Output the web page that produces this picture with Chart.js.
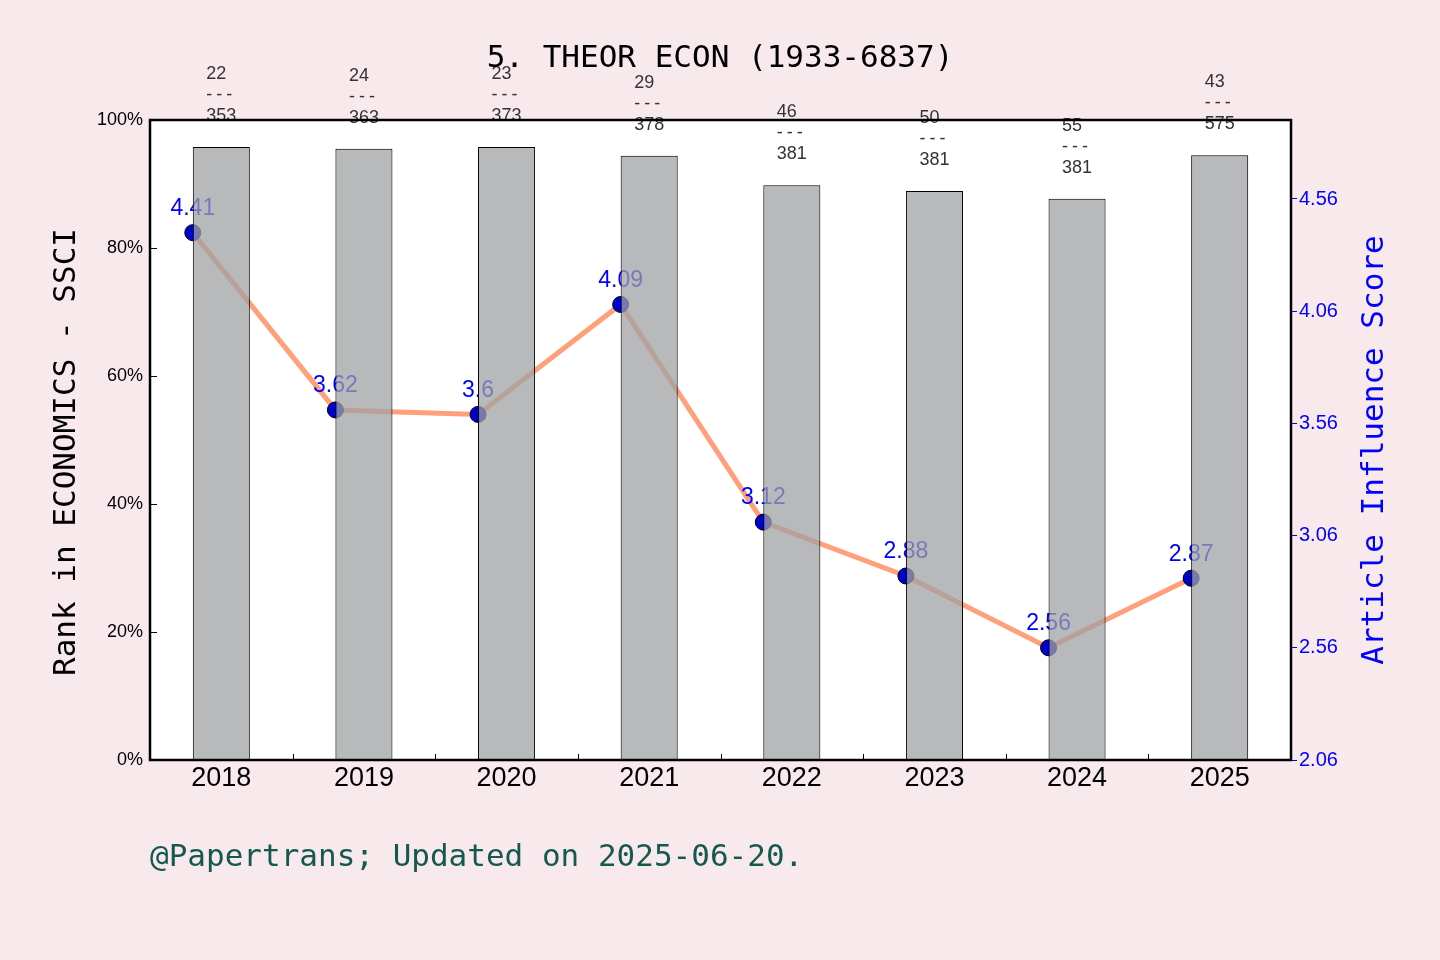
<!DOCTYPE html>
<html>
<head>
<meta charset="utf-8">
<script src="https://cdn.jsdelivr.net/npm/chart.js@4"></script>
<style>
  html, body { margin: 0; padding: 0; background: #f8e9ec; }
  canvas { display: block; }
</style>
</head>
<body>
<canvas id="chart" width="1440" height="960"></canvas>
<script>
// data
const years = ['2018', '2019', '2020', '2021', '2022', '2023', '2024', '2025'];
const rankPct = [95.8, 95.5, 95.8, 94.4, 89.8, 88.9, 87.7, 94.5];
const rankNo = ['22', '24', '23', '29', '46', '50', '55', '43'];
const rankTotal = ['353', '363', '373', '378', '381', '381', '381', '575'];
const aisScore = [4.41, 3.62, 3.6, 4.09, 3.12, 2.88, 2.56, 2.87];
const aisTicks = [2.06, 2.56, 3.06, 3.56, 4.06, 4.56];
const pctTicks = [0, 20, 40, 60, 80, 100];

const MONO = '"DejaVu Sans Mono", "Liberation Mono", monospace';
const SANS = '"Liberation Sans", Arial, sans-serif';

// line points sit at the left edge of each bar
const BAR_FRAC = 0.4;

const decoPlugin = {
  id: 'deco',
  beforeDraw(chart) {
    const { ctx, chartArea: a } = chart;
    ctx.save();
    ctx.fillStyle = '#f8e9ec';
    ctx.fillRect(0, 0, chart.width, chart.height);
    ctx.fillStyle = '#ffffff';
    ctx.fillRect(a.left, a.top, a.right - a.left, a.bottom - a.top);
    ctx.restore();
  },
  afterDatasetDraw(chart, args) {
    // value labels of the line, drawn before the bars so bars tint them
    if (args.index !== 1) return;
    const { ctx } = chart;
    const meta = chart.getDatasetMeta(1);
    ctx.save();
    ctx.font = '23px ' + SANS;
    ctx.fillStyle = '#0000ff';
    ctx.textAlign = 'center';
    ctx.textBaseline = 'middle';
    meta.data.forEach((pt, i) => {
      ctx.fillText(String(aisScore[i]), pt.x, pt.y - 24);
    });
    ctx.restore();
  },
  afterDatasetsDraw(chart) {
    const { ctx, chartArea: a } = chart;
    const meta = chart.getDatasetMeta(0);
    ctx.save();
    // rank labels above bars
    ctx.font = '18px ' + SANS;
    ctx.fillStyle = '#333333';
    ctx.textAlign = 'left';
    ctx.textBaseline = 'middle';
    meta.data.forEach((bar, i) => {
      const w = Math.max(ctx.measureText(rankNo[i]).width, ctx.measureText(rankTotal[i]).width);
      const x0 = bar.x - w / 2;
      const yb = bar.y - 31;
      ctx.fillText(rankTotal[i], x0, yb);
      ctx.fillText(rankNo[i], x0, yb - 42);
      ctx.save();
      ctx.letterSpacing = '4px';
      ctx.fillText('---', x0, yb - 21);
      ctx.restore();
    });

    // plot frame
    ctx.strokeStyle = '#000000';
    ctx.lineWidth = 2.5;
    ctx.strokeRect(a.left, a.top, a.right - a.left, a.bottom - a.top);

    // inward ticks on left axis
    const y = chart.scales.y;
    ctx.lineWidth = 1;
    pctTicks.forEach(v => {
      const py = Math.round(y.getPixelForValue(v)) + 0.5;
      ctx.beginPath();
      ctx.moveTo(a.left, py);
      ctx.lineTo(a.left + 7, py);
      ctx.stroke();
    });
    // inward ticks between categories on bottom axis
    const xl = chart.scales.xl;
    for (let i = 0; i < years.length - 1; i++) {
      const px = Math.round(xl.getPixelForValue(i + 0.5)) + 0.5;
      ctx.beginPath();
      ctx.moveTo(px, a.bottom);
      ctx.lineTo(px, a.bottom - 6);
      ctx.stroke();
    }

    // title
    ctx.fillStyle = '#000000';
    ctx.font = '31px ' + MONO;
    ctx.textAlign = 'center';
    ctx.textBaseline = 'middle';
    ctx.fillText('5. THEOR ECON (1933-6837)', 720, 59);

    // axis titles
    ctx.save();
    ctx.translate(67, 452);
    ctx.rotate(-Math.PI / 2);
    ctx.fillText('Rank in ECONOMICS - SSCI', 0, 0);
    ctx.restore();
    ctx.save();
    ctx.translate(1375, 450);
    ctx.rotate(-Math.PI / 2);
    ctx.fillStyle = '#0000ff';
    ctx.fillText('Article Influence Score', 0, 0);
    ctx.restore();

    // footer
    ctx.fillStyle = '#14594f';
    ctx.textAlign = 'left';
    ctx.fillText('@Papertrans; Updated on 2025-06-20.', 150, 858);
    ctx.restore();
  }
};

new Chart(document.getElementById('chart'), {
  type: 'bar',
  data: {
    labels: years,
    datasets: [
      {
        type: 'bar',
        data: rankPct,
        xAxisID: 'x',
        yAxisID: 'y',
        backgroundColor: 'rgba(160, 161, 163, 0.75)',
        borderColor: '#000000',
        borderWidth: 1,
        borderSkipped: false,
        grouped: false,
        barPercentage: BAR_FRAC,
        categoryPercentage: 1,
        order: 0
      },
      {
        type: 'line',
        data: aisScore.map((v, i) => ({ x: i - BAR_FRAC / 2, y: v })),
        xAxisID: 'xl',
        yAxisID: 'y2',
        borderColor: '#ffa07a',
        borderWidth: 5,
        pointRadius: 8,
        pointBackgroundColor: '#0000cd',
        pointBorderColor: '#000000',
        pointBorderWidth: 1,
        tension: 0,
        clip: false,
        order: 1
      }
    ]
  },
  options: {
    responsive: false,
    animation: false,
    layout: { padding: { top: 120, left: 0, right: 0, bottom: 0 } },
    plugins: {
      legend: { display: false },
      tooltip: { enabled: false },
      title: { display: false }
    },
    scales: {
      x: {
        type: 'category',
        offset: true,
        grid: { display: false, drawTicks: false },
        border: { display: false },
        ticks: { color: '#000000', font: { family: SANS, size: 27 }, padding: 2 },
        afterFit(s) { s.height = 200; }
      },
      xl: {
        type: 'linear',
        min: -0.5,
        max: years.length - 0.5,
        offset: false,
        grid: { offset: false },
        display: false
      },
      y: {
        position: 'left',
        min: 0,
        max: 100,
        grid: { display: false, drawTicks: false },
        border: { display: false },
        afterBuildTicks(s) { s.ticks = pctTicks.map(v => ({ value: v })); },
        ticks: {
          color: '#000000',
          font: { family: SANS, size: 18 },
          padding: 7,
          callback: v => v + '%'
        },
        afterFit(s) { s.width = 150; }
      },
      y2: {
        position: 'right',
        min: 2.06,
        max: 4.912,
        grid: { drawOnChartArea: false, drawTicks: true, tickLength: 6, color: '#0000ff' },
        border: { display: false },
        afterBuildTicks(s) { s.ticks = aisTicks.map(v => ({ value: v })); },
        ticks: {
          color: '#0000ff',
          font: { family: SANS, size: 20 },
          padding: 2,
          callback: v => v.toFixed(2)
        },
        afterFit(s) { s.width = 149; }
      }
    }
  },
  plugins: [decoPlugin]
});
</script>
</body>
</html>
